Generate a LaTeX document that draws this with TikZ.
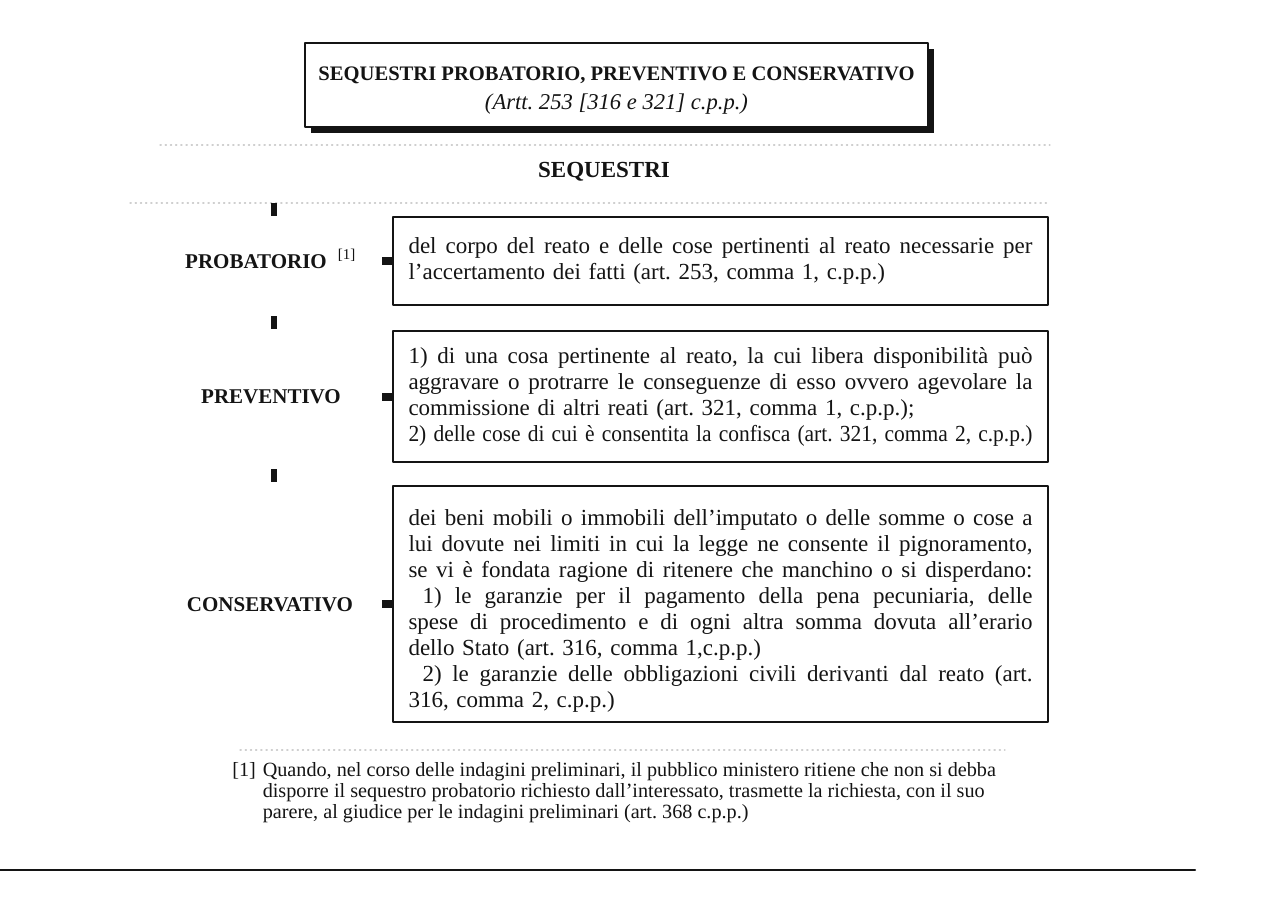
\documentclass[tikz,border=0pt]{standalone}
\usepackage{graphicx}
\usepackage{fontspec}
\setmainfont{Liberation Serif}
\usetikzlibrary{positioning,shadows}
\definecolor{ink}{HTML}{141414}
\definecolor{scan}{HTML}{CFCFCF}
\newlength{\boxtextw}
\setlength{\boxtextw}{312pt}
\newcommand{\jline}[1]{\leavevmode\hbox to\boxtextw{\spaceskip=.25em plus 1em minus .06em\relax #1}}
\newcommand{\squeezeline}[1]{\resizebox{\boxtextw}{\height}{#1}}
\frenchspacing

\begin{document}
\begin{tikzpicture}[x=0.5pt,y=-0.5pt,line cap=round,line join=round,
    textbox/.style={draw=ink,line width=1pt,minimum width=327.5pt,text width=\boxtextw,
      inner xsep=7.5pt,align=left,text=ink,font=\fontsize{11.5}{13}\selectfont\frenchspacing},
    kindname/.style={text=ink,font=\fontsize{10.5}{12}\selectfont\bfseries},
    notch/.style={ink,line width=3pt,line cap=butt},
    fnote/.style={text=ink,inner sep=0pt,align=left,font=\fontsize{10.1}{10.6}\selectfont\frenchspacing}]
  \fill[white] (0,0) rectangle (1280,906);
  \useasboundingbox (0,0) rectangle (1280,906);

  % faint scan rules
  \draw[scan,dotted,line width=.6pt] (160,145)--(1050,145) (130,203)--(1050,203)
    (240,750)--(1005,750);

  \node[draw=ink,line width=1pt,fill=white,minimum width=311.5pt,minimum height=42pt,
    align=center,text=ink,font=\fontsize{11.3}{14}\selectfont,
    drop shadow={shadow xshift=3pt,shadow yshift=-3pt,fill=ink,opacity=1}]
    (titlebox) at (616.5,85)
    {\rule{0pt}{12pt}{\fontsize{10.3}{14}\selectfont\bfseries SEQUESTRI PROBATORIO, PREVENTIVO E CONSERVATIVO}\\[0.5pt]
     {\itshape (Artt. 253 [316 e 321] c.p.p.)}};
  \node[text=ink,font=\fontsize{11.5}{13}\selectfont\bfseries] (heading) at (604,172) {SEQUESTRI};

  \node[textbox,minimum height=44pt] (probbox) at (720.5,261)
    {\jline{del corpo del reato e delle cose pertinenti al reato necessarie per}\\
     l'accertamento dei fatti (art. 253, comma 1, c.p.p.)};
  \node[textbox,minimum height=65.5pt] (prevbox) at (720.5,396.5)
    {\jline{1) di una cosa pertinente al reato, la cui libera disponibilità può}\\
     \jline{aggravare o protrarre le conseguenze di esso ovvero agevolare la}\\
     commissione di altri reati (art. 321, comma 1, c.p.p.);\\
     \squeezeline{2) delle cose di cui è consentita la confisca (art. 321, comma 2, c.p.p.)}};
  \node[textbox,line width=1.3pt,minimum height=118pt] (consbox) at (720.5,604)
    {\jline{\rule{0pt}{15pt}dei beni mobili o immobili dell'imputato o delle somme o cose a}\\
     \jline{lui dovute nei limiti in cui la legge ne consente il pignoramento,}\\
     \jline{se vi è fondata ragione di ritenere che manchino o si disperdano:}\\
     \jline{\hspace*{7pt}1) le garanzie per il pagamento della pena pecuniaria, delle}\\
     \jline{spese di procedimento e di ogni altra somma dovuta all'erario}\\
     dello Stato (art. 316, comma 1,c.p.p.)\\
     \jline{\hspace*{7pt}2) le garanzie delle obbligazioni civili derivanti dal reato (art.}\\
     316, comma 2, c.p.p.)};

  \node[kindname] (probatorio) at (256,262) {PROBATORIO};
  \node[text=ink,font=\fontsize{7.5}{8}\selectfont,anchor=base west]
    (fnref) at ([xshift=-1.5pt,yshift=4.5pt]probatorio.base east) {[1]};
  \node[kindname] (preventivo) at (271,397) {PREVENTIVO};
  \node[kindname] (conservativo) at (270,605) {CONSERVATIVO};

  \foreach \y in {203,316,469}
    \draw[notch] (274,\y) -- ++(0,13);
  \draw[notch,line width=4pt] (probbox.west) -- ++(-10,0);
  \draw[notch,line width=4pt] (prevbox.west) -- ++(-10,0);
  \draw[notch,line width=4pt] (consbox.west) -- ++(-10,0);

  \node[fnote,anchor=north west] (fnmark) at (232,762) {[1]};
  \node[fnote,anchor=north west] (fntext) at ([xshift=3pt]fnmark.north east)
    {Quando, nel corso delle indagini preliminari, il pubblico ministero ritiene che non si debba\\
     disporre il sequestro probatorio richiesto dall'interessato, trasmette la richiesta, con il suo\\
     parere, al giudice per le indagini preliminari (art. 368 c.p.p.)};

  \draw[ink,line width=1.2pt] (0,870) -- (1195,870);
\end{tikzpicture}
\end{document}
